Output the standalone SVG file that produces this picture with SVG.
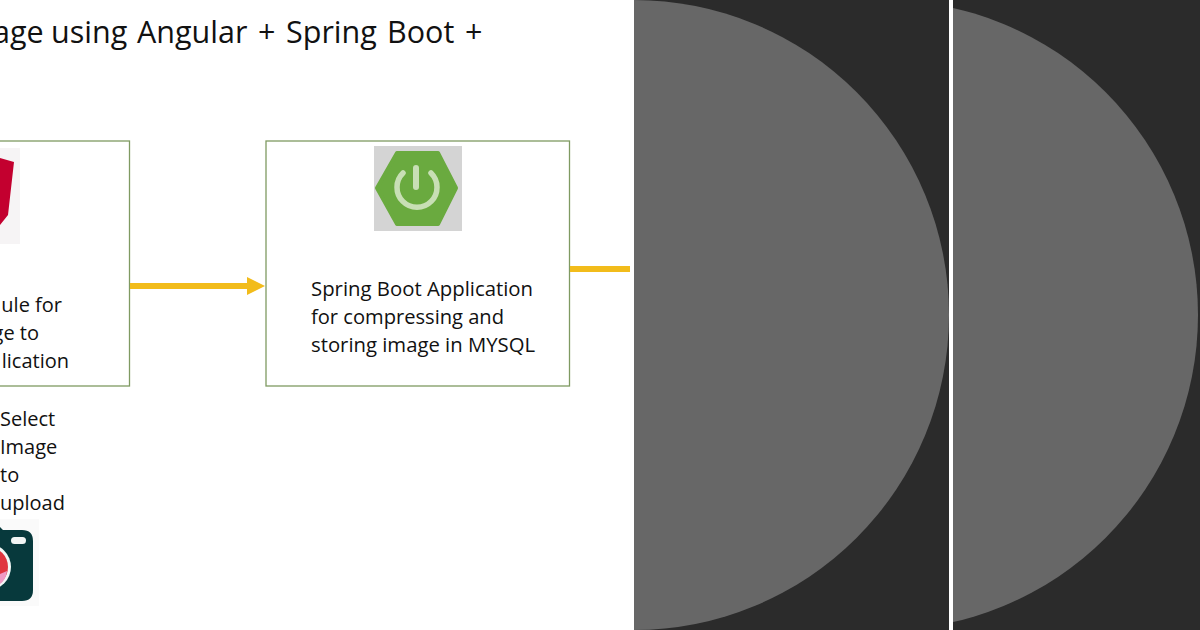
<svg xmlns="http://www.w3.org/2000/svg" width="1200" height="630" viewBox="0 0 1200 630">
<style>
text{font-family:"Open Sans","Noto Sans","Liberation Sans",sans-serif;fill:#111}
.t{font-size:20px}
.title{font-size:30.500px}
.box{fill:#fff;stroke:#7f9a62;stroke-width:1.3}
.dark{fill:#2b2b2b}
.disc{fill:#676767}
.flow{fill:none;stroke:#f2bc1b;stroke-width:6}
</style>
<defs>
<marker id="arrow" markerUnits="userSpaceOnUse" markerWidth="20" markerHeight="20" refX="2" refY="10" orient="auto"><path d="M1 1L19 10L1 19Z" fill="#f2bc1b"/></marker>
<clipPath id="p1"><rect x="634" y="0" width="315" height="630"/></clipPath>
<clipPath id="p2"><rect x="953" y="0" width="247" height="630"/></clipPath>
</defs>
<rect width="1200" height="630" fill="#fff"/>
<g id="title"><text class="title" y="43"><tspan x="-7">age</tspan> <tspan x="51">using</tspan> <tspan x="137">Angular</tspan> <tspan x="258">+</tspan> <tspan x="286">Spring</tspan> <tspan x="387">Boot</tspan> <tspan x="465">+</tspan></text></g>
<g id="angular-node">
<rect class="box" x="-10" y="141" width="139.500" height="245"/>
<rect x="-10" y="148" width="30" height="96" fill="#f6f4f5"/>
<path d="M-10 155L0 158L14 162L8 215L0 225L-10 229Z" fill="#c3002f"/>
<text class="t" x="62" y="312" text-anchor="end">ule for</text>
<text class="t" x="39" y="340" text-anchor="end">ge to</text>
<text class="t" x="69" y="368" text-anchor="end">lication</text>
</g>
<g id="spring-node">
<rect class="box" x="266" y="141" width="303.500" height="245"/>
<rect x="374" y="146" width="88" height="85" fill="#d4d4d4"/>
<path d="M397 153H438L456 188L438 224H397L377 188Z" fill="#6aaa3f" stroke="#6aaa3f" stroke-width="4" stroke-linejoin="round"/>
<path d="M403 173A20 20 0 1 0 431 173" fill="none" stroke="#c8dfb5" stroke-width="5.500" stroke-linecap="round"/>
<path d="M416 168V187" fill="none" stroke="#c8dfb5" stroke-width="6" stroke-linecap="round"/>
<text class="t" x="311" y="296" textLength="222" lengthAdjust="spacingAndGlyphs">Spring Boot Application</text>
<text class="t" x="311" y="324" textLength="193" lengthAdjust="spacingAndGlyphs">for compressing and</text>
<text class="t" x="311" y="352" textLength="224" lengthAdjust="spacingAndGlyphs">storing image in MYSQL</text>
</g>
<g id="select-image-node">
<text class="t" x="0" y="426">Select</text>
<text class="t" x="0" y="454">Image</text>
<text class="t" x="0" y="482">to</text>
<text class="t" x="0" y="510">upload</text>
<rect x="0" y="519" width="39" height="87" fill="#fafafa"/>
<path d="M0 527L3 530H22Q33 530 33 541V590Q33 601 22 601H0Z" fill="#07393c"/>
<rect x="11" y="537" width="15" height="7" rx="3.500" fill="#f1f5f4"/>
<circle cx="-12" cy="567" r="23" fill="#f2f7f6"/>
<circle cx="-12" cy="567" r="20" fill="#e0353f"/>
<path d="M0 574L7 571Q6 580 0 584Z" fill="#ef9ac4"/>
</g>
<g id="connectors">
<path class="flow" d="M130 286H248" marker-end="url(#arrow)"/>
<path class="flow" d="M570 269H630"/>
</g>
<g id="panel-1">
<rect class="dark" x="634" width="315" height="630"/>
<circle class="disc" cx="634" cy="315" r="315" clip-path="url(#p1)"/>
</g>
<g id="panel-2">
<rect class="dark" x="953" width="247" height="630"/>
<circle class="disc" cx="883" cy="315" r="315" clip-path="url(#p2)"/>
</g>
</svg>
